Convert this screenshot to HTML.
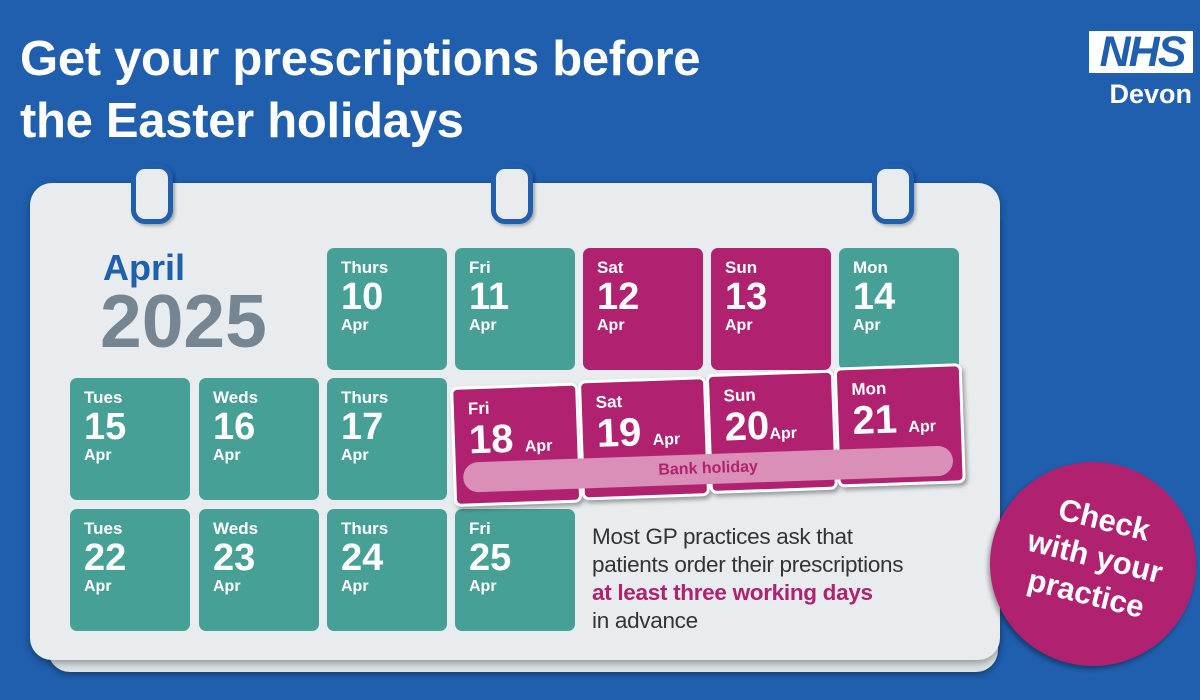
<!DOCTYPE html>
<html><head><style>
*{margin:0;padding:0;box-sizing:border-box}
body{width:1200px;height:700px;background:#1f5fae;position:relative;overflow:hidden;font-family:"Liberation Sans",sans-serif}
.abs{position:absolute}
h1{position:absolute;left:20px;top:28px;color:#fff;font-size:49px;line-height:62px;font-weight:bold;letter-spacing:-0.3px}
.back{left:48px;top:200px;width:950px;height:472px;background:#dde2e5;border-radius:22px;box-shadow:0 3px 6px rgba(0,0,0,.3)}
.card{left:30px;top:183px;width:970px;height:477px;background:#e8ecee;border-radius:22px;box-shadow:0 3px 8px rgba(0,0,0,.35)}
.ring{width:42px;height:60px;top:164px;border:5px solid #1f5fae;border-radius:14px;background:#e8ecee;box-shadow:2px 2px 3px rgba(0,0,0,.3)}
.t{position:absolute;width:120px;height:122px;border-radius:7px;color:#fff;padding:10px 14px;font-weight:bold}
.g{background:#47a096}.m{background:#b0226f}
.t .d{font-size:17px;line-height:20px}
.t .n{font-size:38px;line-height:38px}
.t .a{font-size:16px;line-height:20px}
.tilt{left:452px;top:374px;width:515px;height:126px;transform:rotate(-2deg);transform-origin:center}
.tilt .t{height:120px;border:3px solid #fff;box-shadow:2px 3px 4px rgba(0,0,0,.35)}
.tilt .n{font-size:40px;line-height:42px}
.tilt .a{font-size:16px}
.band{position:absolute;left:10px;top:80px;width:490px;height:30px;border-radius:15px;background:#d98fb8;color:#b0226f;font-weight:bold;font-size:16px;text-align:center;line-height:30px}
</style></head><body>
<h1>Get your prescriptions before<br>the Easter holidays</h1>
<div class="abs" style="left:1089px;top:31px;width:104px;height:42px;background:#fff"></div>
<div class="abs" style="left:1091px;top:29px;width:102px;height:46px;color:#1f5fae;font-weight:bold;font-style:italic;font-size:43px;line-height:46px;text-align:center;letter-spacing:-2px">NHS</div>
<div class="abs" style="right:8px;top:79px;color:#fff;font-weight:bold;font-size:27px">Devon</div>
<div class="abs back"></div>
<div class="abs card"></div>
<div class="abs ring" style="left:131px"></div>
<div class="abs ring" style="left:491px"></div>
<div class="abs ring" style="left:872px"></div>
<div class="abs" style="left:103px;top:247px;color:#1f5fae;font-weight:bold;font-size:36px">April</div>
<div class="abs" style="left:100px;top:278px;color:#758592;font-weight:bold;font-size:75px;line-height:86px">2025</div>

<div class="t g" style="left:327px;top:248px"><div class="d">Thurs</div><div class="n">10</div><div class="a">Apr</div></div>
<div class="t g" style="left:455px;top:248px"><div class="d">Fri</div><div class="n">11</div><div class="a">Apr</div></div>
<div class="t m" style="left:583px;top:248px"><div class="d">Sat</div><div class="n">12</div><div class="a">Apr</div></div>
<div class="t m" style="left:711px;top:248px"><div class="d">Sun</div><div class="n">13</div><div class="a">Apr</div></div>
<div class="t g" style="left:839px;top:248px"><div class="d">Mon</div><div class="n">14</div><div class="a">Apr</div></div>

<div class="t g" style="left:70px;top:378px"><div class="d">Tues</div><div class="n">15</div><div class="a">Apr</div></div>
<div class="t g" style="left:199px;top:378px"><div class="d">Weds</div><div class="n">16</div><div class="a">Apr</div></div>
<div class="t g" style="left:327px;top:378px"><div class="d">Thurs</div><div class="n">17</div><div class="a">Apr</div></div>

<div class="t g" style="left:70px;top:509px"><div class="d">Tues</div><div class="n">22</div><div class="a">Apr</div></div>
<div class="t g" style="left:199px;top:509px"><div class="d">Weds</div><div class="n">23</div><div class="a">Apr</div></div>
<div class="t g" style="left:327px;top:509px"><div class="d">Thurs</div><div class="n">24</div><div class="a">Apr</div></div>
<div class="t g" style="left:455px;top:509px"><div class="d">Fri</div><div class="n">25</div><div class="a">Apr</div></div>

<div class="abs tilt">
<div class="t m" style="left:0;top:4px;width:128px"><div class="d">Fri</div><div class="n">18 <span class="a">Apr</span></div></div>
<div class="t m" style="left:128px;top:2px;width:128px"><div class="d">Sat</div><div class="n">19 <span class="a">Apr</span></div></div>
<div class="t m" style="left:256px;top:0;width:128px"><div class="d">Sun</div><div class="n">20<span class="a">Apr</span></div></div>
<div class="t m" style="left:384px;top:-2px;width:128px"><div class="d">Mon</div><div class="n">21 <span class="a">Apr</span></div></div>
<div class="band">Bank holiday</div>
</div>

<div class="abs" style="left:592px;top:523px;color:#333;font-size:22.5px;line-height:28px;letter-spacing:-0.3px">Most GP practices ask that<br>patients order their prescriptions<br><b style="color:#b0226f">at least three working days</b><br>in advance</div>

<div class="abs" style="left:990px;top:462px;width:206px;height:204px;border-radius:50%;background:#b0226f;box-shadow:-2px 3px 5px rgba(0,0,0,.35)"></div>
<div class="abs" style="left:990px;top:500px;width:210px;color:#fff;font-weight:bold;font-size:31px;line-height:38px;text-align:center;transform:rotate(14deg)">Check<br>with your<br>practice</div>
</body></html>
